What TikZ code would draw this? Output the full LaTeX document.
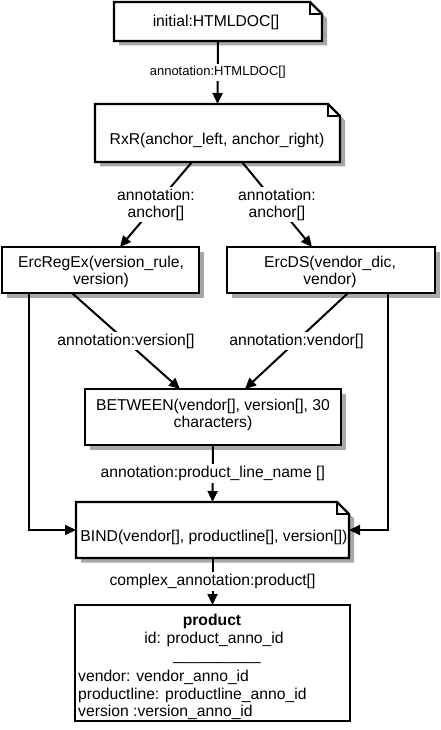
\documentclass[tikz,border=0pt]{standalone}
\usepackage{fontspec}
\setmainfont{Liberation Sans}
\usetikzlibrary{arrows.meta,calc}
\definecolor{shadowgray}{HTML}{A8A8A8}
\newcommand{\mainsize}{\fontsize{15.7}{17}\selectfont}
\newcommand{\smallsize}{\fontsize{13}{15}\selectfont}
\begin{document}
\begin{tikzpicture}[x=1pt,y=-1pt,
  boxnode/.style 2 args={rectangle, minimum width=#1, minimum height=#2, inner sep=0pt, outer sep=0pt},
  frame/.style={draw=black, line width=2.2pt, fill=white, line join=miter},
  shade/.style={fill=shadowgray},
  foldline/.style={draw=black, line width=1.3pt},
  txt/.style={font=\mainsize, align=center, inner sep=0pt},
  lbl/.style={font=\mainsize, align=center, fill=white, inner sep=2pt},
  smalllbl/.style={font=\smallsize, fill=white, inner sep=2pt},
  conn/.style={line width=2pt, -{Triangle[width=10pt,length=11pt]}},
  plainline/.style={line width=2pt}
]
\useasboundingbox (0,0) rectangle (440,730);

% box placeholders
\node[boxnode={208}{39}] (init) at (218,21.5) {};
\node[boxnode={245}{58}] (rxr) at (217.5,133) {};
\node[boxnode={197}{46}] (reg) at (100.5,270) {};
\node[boxnode={208}{46}] (ds) at (331,270) {};
\node[boxnode={256}{56}] (bt) at (213,417) {};
\node[boxnode={273}{56}] (bind) at (212.5,530) {};
\node[boxnode={275}{116}] (prod) at (212.5,663) {};

% shadows
\foreach \n in {init,rxr,bind}{
  \fill[shade] ([xshift=5pt,yshift=-4.5pt]\n.north west) -- ([xshift=-7pt,yshift=-4.5pt]\n.north east)
    -- ([xshift=5pt,yshift=-16.5pt]\n.north east) -- ([xshift=5pt,yshift=-4.5pt]\n.south east)
    -- ([xshift=5pt,yshift=-4.5pt]\n.south west) -- cycle;
}
\foreach \n in {reg,ds,bt}{
  \fill[shade] ([xshift=5pt,yshift=-4.5pt]\n.north west) rectangle ([xshift=5pt,yshift=-4.5pt]\n.south east);
}

% note frames
\foreach \n in {init,rxr,bind}{
  \draw[frame] (\n.north west) -- ([xshift=-12pt]\n.north east) -- ([yshift=-12pt]\n.north east)
    -- (\n.south east) -- (\n.south west) -- cycle;
  \draw[foldline] ([xshift=-12pt]\n.north east) |- ([yshift=-12pt]\n.north east);
}
% rectangle frames
\foreach \n in {reg,ds,bt,prod}{
  \draw[frame] (\n.north west) rectangle (\n.south east);
}

% texts
\node[txt] (tinit) at (216,22) {initial:HTMLDOC[]};
\node[txt] (trxr) at (217,140) {RxR(anchor\_left, anchor\_right)};
\node[txt] (treg) at (101,271.5) {ErcRegEx(version\_rule,\\version)};
\node[txt] (tds) at (330,271.5) {ErcDS(vendor\_dic,\\vendor)};
\node[txt] (tbt) at (213,415) {BETWEEN(vendor[], version[], 30\\characters)};
\node[txt] (tbind) at (214,537) {BIND(vendor[], productline[], version[])};

\node[txt, font=\mainsize\bfseries, anchor=base] (ptitle) at (212,625) {product};
\node[txt, anchor=base] (pid) at (214,643) {id: product\_anno\_id};
\node[txt, anchor=base] (psep) at (217,660) {\_\_\_\_\_\_\_\_\_\_};
\node[txt, anchor=base west] (pvendor) at (78,681) {vendor: vendor\_anno\_id};
\node[txt, anchor=base west] (pline) at (78,699) {productline: productline\_anno\_id};
\node[txt, anchor=base west] (pversion) at (78,716) {version :version\_anno\_id};

% connectors
\draw[conn] (init.south) -- node[smalllbl] (l1) {annotation:HTMLDOC[]} (rxr.north);
\draw[conn] ([xshift=-25.5pt]rxr.south) -- node[lbl] (l2) {annotation:\\anchor[]} ([xshift=19.5pt]reg.north);
\draw[conn] ([xshift=24.5pt]rxr.south) -- node[lbl] (l3) {annotation:\\anchor[]} ([xshift=-19pt]ds.north);
\draw[conn] ([xshift=70pt]reg.south west) -- node[lbl] (l4) {annotation:version[]} ([xshift=-33pt]bt.north);
\draw[conn] ([xshift=17pt]ds.south) -- node[lbl] (l5) {annotation:vendor[]} ([xshift=32pt]bt.north);
\draw[conn] (bt.south) -- node[lbl] (l6) {annotation:product\_line\_name []} (bind.north);
\draw[conn] (bind.south) -- node[lbl] (l7) {complex\_annotation:product[]} (prod.north);
\draw[conn] ([xshift=27pt]reg.south west) |- (bind.west);
\draw[conn] ([xshift=-47pt]ds.south east) |- (bind.east);
\end{tikzpicture}
\end{document}
